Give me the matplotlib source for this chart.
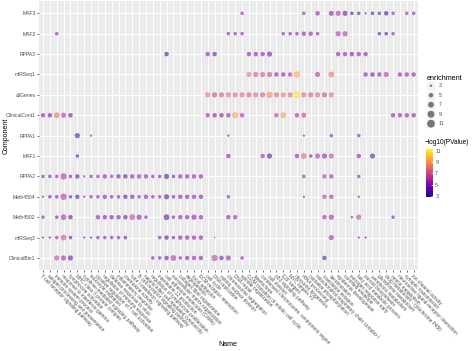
import numpy as np
import pandas as pd
import matplotlib
matplotlib.use("Agg")
import matplotlib.pyplot as plt
from matplotlib.colors import Normalize
from matplotlib.cm import ScalarMappable

plt.rcParams['font.family'] = ['Liberation Sans', 'DejaVu Sans']

# gene set names on the x axis (left to right)
names = [
    "T cell receptor signaling pathway", "antigen processing and presentation",
    "immune system process", "response to interferon-gamma", "lymphocyte activation",
    "MHC class II protein complex", "cytokine-mediated signaling pathway",
    "leukocyte migration", "positive regulation of T cell activation",
    "regulation of immune response", "defense response to virus",
    "inflammatory response", "chemokine activity", "type I interferon signaling pathway",
    "B cell receptor signaling pathway", "natural killer cell mediated cytotoxicity",
    "regulation of lymphocyte proliferation", "interleukin-12 production",
    "cell adhesion molecules (CAMs)", "extracellular matrix organization",
    "collagen fibril organization", "angiogenesis", "focal adhesion",
    "ECM-receptor interaction", "cell cycle", "DNA replication",
    "mitotic nuclear division", "chromosome segregation", "DNA repair",
    "spindle organization", "G2/M transition of mitotic cell cycle", "kinetochore",
    "condensed chromosome, centromeric region", "cell division",
    "p53 signaling pathway", "E2F targets", "MYC targets V1", "ribosome biogenesis",
    "rRNA processing", "oxidative phosphorylation",
    "mitochondrial respiratory chain complex I", "translation initiation",
    "keratinization", "epidermis development", "cornified envelope",
    "estrogen response early", "fatty acid metabolic process", "steroid biosynthesis",
    "xenobiotic metabolism", "glutathione metabolism",
    "drug metabolism - cytochrome P450", "retinol metabolism",
    "neuroactive ligand-receptor interaction", "synaptic transmission",
    "ion channel activity",
]

# components, bottom to top
components = ["ClinicalBin1", "miRSeq3", "Meth4502", "Meth4504", "RPPA2", "MAF1",
              "RPPA1", "ClinicalCont1", "allGenes", "miRSeq1", "RPPA3", "MAF2", "MAF3"]

# per component: gene set index, enrichment, -log10(PValue)
maf3_idx = [29, 38, 40, 42, 43, 44, 45, 46, 47, 48, 49, 50, 51, 53, 54]
maf3_enr = [4, 4, 5, 6, 6, 6, 4, 4, 3, 4, 4, 5, 4, 4, 4]
maf3_p = [5, 5, 5, 5, 6, 4, 3, 4, 4, 3, 4, 3, 5, 5, 5]

maf2_idx = [2, 27, 28, 29, 35, 36, 37, 38, 39, 40, 43, 44, 49, 50, 51]
maf2_enr = [4, 4, 4, 4, 4, 4, 4, 5, 5, 4, 6, 6, 4, 4, 4]
maf2_p = [5, 5, 5, 5, 5, 5, 5, 5, 5, 5, 6, 6, 4, 3, 5]

rppa3_idx = [18, 24, 25, 30, 31, 32, 33, 43, 44, 45, 46, 47]
rppa3_enr = [5, 5, 5, 5, 5, 5, 6, 5, 5, 5, 5, 5]
rppa3_p = [3, 5, 4, 5, 5, 5, 4.5, 5, 5, 4, 5, 5]

mirseq1_idx = [30, 31, 32, 33, 34, 35, 36, 37, 40, 42, 47, 48, 49, 50, 52, 53, 54]
mirseq1_enr = [6, 6, 6, 6, 5, 5, 5, 8, 6, 7, 5, 5, 5, 6, 5, 5, 5]
mirseq1_p = [8, 7, 7, 6.5, 5, 5, 5.5, 9.5, 6, 8, 5, 3.8, 5, 6, 5, 5, 5]

allgenes_idx = list(range(24, 43))
allgenes_enr = [6, 6, 6, 6, 6, 6, 6, 6, 6, 8, 6, 6, 6, 10, 6, 6, 6, 6, 6]
allgenes_p = [8, 6.5, 7, 7.5, 7.5, 7.5, 7, 7.5, 7, 8.5, 7.5, 8, 7.5, 11, 7.5, 7, 7.5, 6.5, 7.5]

cc1_idx = [0, 1, 2, 3, 4, 24, 25, 26, 27, 28, 29, 34, 35, 37, 38, 51, 52, 53, 54]
cc1_enr = [5, 5, 7, 6, 5, 5, 5, 5, 5, 8, 5, 5, 7, 5, 6, 5, 5, 5, 5]
cc1_p = [5, 4, 8, 6, 4, 5.5, 4.5, 4.5, 5, 9.5, 5.5, 6, 9, 5.5, 6.5, 5, 5, 5, 5]

rppa1_idx = [5, 7, 27, 38, 42, 46]
rppa1_enr = [6, 3, 3, 3, 4, 4]
rppa1_p = [3.5, 5, 4, 5, 5, 5]

maf1_idx = [5, 27, 32, 33, 37, 38, 39, 40, 41, 42, 46, 48]
maf1_enr = [4, 5, 5, 6, 5, 7, 4, 6, 6, 6, 5, 6]
maf1_p = [3.5, 5, 5.5, 3.5, 5, 7.5, 4.5, 6, 5, 6.5, 5, 3.8]

rppa2_idx = list(range(0, 24)) + [38, 41, 42, 46]
rppa2_enr = [4, 4, 4, 8, 4, 5, 3, 4, 4, 5, 4, 5, 5, 5, 5, 5, 4, 4, 6, 4, 5, 5, 5, 5, 4, 5, 5, 4]
rppa2_p = [5, 4, 5, 6, 4, 3.5, 5, 5, 5, 5, 5, 4.5, 3.5, 5, 5, 5, 5, 4.5, 3.5, 4, 5, 5, 5, 5, 5, 6, 5.5, 5]

meth4504_idx = list(range(0, 24)) + [27, 38, 41, 42, 46]
meth4504_enr = [3, 4, 4, 8, 4, 5, 3, 4, 4, 5, 4, 4, 5, 5, 4, 5, 4, 4, 6, 4, 5, 5, 5, 5, 4, 3, 5, 5, 3]
meth4504_p = [5, 4, 4, 6, 4, 3.5, 5, 5, 5, 5, 4.5, 4.5, 3.5, 4.5, 5, 5, 5, 5, 3.5, 4, 5, 5, 5, 5, 5, 5, 6, 5.5, 5]

meth4502_idx = [0, 2, 3, 4, 8, 9, 10, 11, 12, 13, 14, 15, 18, 19, 20, 21, 22, 23,
                27, 28, 41, 42, 45, 46, 51]
meth4502_enr = [4, 4, 7, 5, 5, 5, 5, 5, 5, 7, 6, 4, 7, 4, 5, 5, 6, 5, 5, 5, 5, 6, 3, 6, 4]
meth4502_p = [5, 4, 6, 3.5, 5, 4.5, 4.5, 5, 3.5, 6.5, 5, 5, 4, 4.5, 5, 5, 5, 5, 5, 5.5, 5.5, 5.5, 3.5, 6.5, 5]

mirseq3_idx = [0, 1, 2, 3, 4, 6, 7, 8, 9, 10, 11, 12, 17, 18, 19, 20, 21, 22, 23,
               25, 42, 46, 47, 52]
mirseq3_enr = [3, 3, 4, 7, 4, 3, 3, 4, 4, 4, 4, 4, 4, 5, 4, 5, 5, 5, 5, 2.5, 6, 3, 3, 2]
mirseq3_p = [5, 4, 5, 7, 3.5, 5, 4.5, 5, 5, 5, 5, 3.5, 4.5, 3.5, 4.5, 5, 5, 5, 5, 4, 5.5, 5, 5, 5]

cb1_idx = [2, 3, 4, 16, 17, 18, 19, 20, 21, 22, 23, 25, 26, 27, 29, 41]
cb1_enr = [6, 6, 6, 4, 4, 5, 7, 4, 5, 5, 5, 8, 5, 6, 4, 5]
cb1_p = [6.5, 5.5, 4, 5, 4.5, 4, 6, 5, 5, 5, 5, 6.5, 4, 5.5, 5, 3.5]

rows = {
    "MAF3": (maf3_idx, maf3_enr, maf3_p),
    "MAF2": (maf2_idx, maf2_enr, maf2_p),
    "RPPA3": (rppa3_idx, rppa3_enr, rppa3_p),
    "miRSeq1": (mirseq1_idx, mirseq1_enr, mirseq1_p),
    "allGenes": (allgenes_idx, allgenes_enr, allgenes_p),
    "ClinicalCont1": (cc1_idx, cc1_enr, cc1_p),
    "RPPA1": (rppa1_idx, rppa1_enr, rppa1_p),
    "MAF1": (maf1_idx, maf1_enr, maf1_p),
    "RPPA2": (rppa2_idx, rppa2_enr, rppa2_p),
    "Meth4504": (meth4504_idx, meth4504_enr, meth4504_p),
    "Meth4502": (meth4502_idx, meth4502_enr, meth4502_p),
    "miRSeq3": (mirseq3_idx, mirseq3_enr, mirseq3_p),
    "ClinicalBin1": (cb1_idx, cb1_enr, cb1_p),
}

recs = []
for comp, (idx, enr, p) in rows.items():
    for i, e, v in zip(idx, enr, p):
        recs.append((names[i], comp, e, v))
df = pd.DataFrame(recs, columns=["Name", "Component", "enrichment", "logp"])
df["x"] = df["Name"].map({n: i for i, n in enumerate(names)})
df["y"] = df["Component"].map({c: i for i, c in enumerate(components)})


def size_of(e):
    # area grows linearly with enrichment
    return 1.2 + (np.asarray(e, dtype=float) - 2.5) * 3.6


W, H = 474, 351
cmap = plt.get_cmap("plasma")
norm = Normalize(vmin=2.8, vmax=11.35)

fig = plt.figure(figsize=(W / 100, H / 100), dpi=100)
ax = fig.add_axes([38.9 / W, 1 - 270.2 / H, (417.8 - 38.9) / W, (270.2 - 1.1) / H])
ax.set_facecolor("#EBEBEB")
for s in ax.spines.values():
    s.set_visible(False)
ax.grid(color="white", lw=0.7)
ax.set_axisbelow(True)

ax.scatter(df["x"], df["y"], s=size_of(df["enrichment"]), c=df["logp"],
           cmap=cmap, norm=norm, alpha=0.55, linewidths=0, zorder=3)

ax.set_xlim(-0.6, len(names) - 0.4)
ax.set_ylim(-0.6, len(components) - 0.4)
ax.set_xticks(range(len(names)))
ax.set_xticklabels(names, rotation=-45, ha="left", va="top", rotation_mode="anchor",
                   fontsize=3.4, color="#4D4D4D")
ax.set_yticks(range(len(components)))
ax.set_yticklabels(components, fontsize=3.6, color="#4D4D4D")
ax.tick_params(length=1.5, width=0.5, color="#333333", pad=1)

fig.text(228 / W, 1 - 345 / H, "Name", ha="center", va="center", fontsize=5)
fig.text(6 / W, 1 - 135.6 / H, "Component", ha="center", va="center",
         rotation=90, fontsize=5)

# size legend
lax = fig.add_axes([0, 0, 1, 1])
lax.set_xlim(0, W)
lax.set_ylim(H, 0)
lax.axis("off")
fig.text(427 / W, 1 - 78 / H, "enrichment", ha="left", va="center", fontsize=5.2)
leg_vals = [3, 5, 7, 9, 11]
leg_y = 85.7 + np.arange(len(leg_vals)) * 9.5
for yy in leg_y:
    lax.add_patch(plt.Rectangle((426.5, yy - 4.6), 9, 9.2, facecolor="#F2F2F2",
                                edgecolor="white", lw=0.5))
lax.scatter([431] * len(leg_vals), leg_y, s=size_of(leg_vals), color="black",
            alpha=0.5, linewidths=0, zorder=3)
for v, yy in zip(leg_vals, leg_y):
    lax.text(439, yy, str(v), ha="left", va="center", fontsize=3.8, color="#4D4D4D")

# colour bar
fig.text(425 / W, 1 - 143 / H, "\u2212log10(PValue)", ha="left", va="center",
         fontsize=4.7)
cax = fig.add_axes([426 / W, 1 - 197 / H, 6.5 / W, 48 / H])
cb = fig.colorbar(ScalarMappable(norm=norm, cmap=cmap), cax=cax, ticks=[3, 5, 7, 9, 11])
cb.outline.set_visible(False)
cax.tick_params(labelsize=3.8, labelcolor="#4D4D4D", length=1.5, width=0.5,
                color="white", direction="in", pad=2)

fig.savefig("out.png", dpi=100)
